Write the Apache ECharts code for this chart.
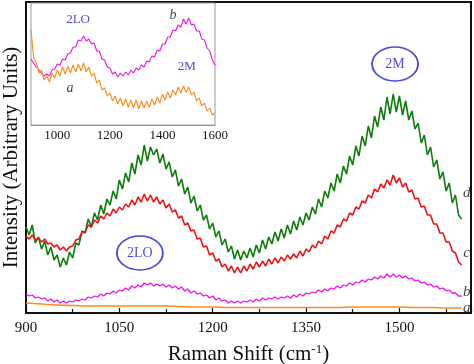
<!DOCTYPE html>
<html>
<head>
<meta charset="utf-8">
<script src="https://cdn.jsdelivr.net/npm/echarts@6/dist/echarts.min.js"></script>
<style>html,body{margin:0;padding:0;background:#fff}#c{width:474px;height:364px}</style>
</head>
<body>
<div id="c"></div>
<script>
// Main spectra: Raman shift 900..1600 cm-1, step 5
const shiftMain = Array.from({length: 141}, (_, i) => 900 + 5 * i);
const curveD = [86,78,88,70,76,64,72,58,66,53,58,46,55,48,61,55,70,68,82,80,
94,86,100,93,108,99,114,108,122,114,133,124,140,131,150,139,158,148,168,152,
166,158,164,150,159,144,151,136,143,127,134,119,126,110,117,102,108,93,98,84,
90,76,82,68,74,61,67,54,63,53,62,55,65,56,68,60,73,64,76,69,
81,72,84,75,88,79,92,83,96,88,100,93,106,99,114,106,122,115,130,122,
139,130,147,139,157,148,167,157,177,167,187,175,197,186,206,193,216,199,219,201,
217,198,212,193,202,184,190,170,178,158,166,146,153,134,141,122,130,110,118,98,94];
const curveC = [77,74,78,73,75,71,74,69,70,66,68,63,66,62,66,67,73,74,81,81,
88,86,93,90,97,94,100,97,104,100,106,103,109,106,113,108,116,111,119,112,
118,111,116,109,113,105,109,101,103,95,97,88,90,82,83,74,75,66,67,58,
60,52,54,46,49,42,47,40,46,40,47,42,49,44,51,46,52,47,54,49,
55,50,56,52,58,54,59,55,62,57,64,61,68,65,72,69,77,74,82,80,
88,86,94,92,100,98,106,104,112,110,118,115,124,121,129,125,133,128,138,130,
135,126,130,121,123,114,115,106,107,98,98,89,89,80,80,71,71,62,60,51,48];
const curveB = [19,17,18,15,16,14,15,12,14,11,13,10,12,10,12,11,13,12,14,13,
16,15,17,16,19,17,20,19,22,20,23,22,25,23,27,25,28,26,30,28,
30,27,29,27,29,26,28,25,27,24,26,22,24,20,22,19,20,17,18,15,
17,13,15,12,13,10,12,10,12,10,12,11,13,11,14,12,15,13,15,14,
16,14,16,15,17,15,18,16,19,17,20,19,21,20,23,21,24,22,25,24,
27,25,28,27,30,28,31,30,33,31,34,33,36,34,37,35,39,36,39,36,
38,35,37,34,35,32,33,30,31,28,29,26,27,24,25,22,23,20,20,17,17];
const shiftA = [900,925,950,975,1000,1025,1050,1075,1100,1125,1150,1175,1200,1225,1250,1275,1300,1325,1350,1375,1400,1425,1450,1475,1500,1525,1550,1575,1600];
const curveA = [10,9,8,7.5,7,7,7,7,7,7,6.5,6,6,5.5,5.5,5.5,5.5,5.5,5.5,5.5,5.5,6,6,6,6,5.5,5.5,5,5];

// Inset spectra: 900..1600 step 10
const shiftInset = Array.from({length: 71}, (_, i) => 900 + 10 * i);
const insetB = [66,62,58,55,52,49,51,49,55,56,61,60,66,65,71,72,78,78,85,84,
89,84,86,81,82,74,74,66,65,58,57,51,53,48,52,49,53,50,55,52,
57,55,60,58,64,63,69,68,75,74,81,81,88,88,95,94,100,98,106,101,
107,100,101,94,94,86,85,77,74,65,60];
const insetA = [95,68,62,52,55,45,49,43,52,47,55,49,58,51,59,52,60,53,61,54,
62,53,58,49,52,42,45,35,37,29,32,24,29,21,27,19,26,18,25,17,
25,16,24,17,24,18,26,20,28,22,31,25,33,27,35,30,38,32,39,33,
38,30,33,24,27,19,22,14,17,10,12];

const mainTicks = [900, 1050, 1200, 1350, 1500];
const insetTicks = [1000, 1200, 1400, 1600];

// annotations (data coordinates)
const curveLabels = [['d', 1608, 120], ['c', 1608, 60], ['b', 1608, 21], ['a', 1608, 5]];
const bandLabels = [['2LO', 1083, 60], ['2M', 1493, 249]];
const insetCurveLabels = [['b', 1440, 110], ['a', 1048, 37]];
const insetBandLabels = [['2LO', 1079, 105], ['2M', 1493, 58]];

const zip = (xs, ys) => ys.map((y, i) => [xs[i], y]);
const serif = 'Liberation Serif, Times New Roman, serif';
const blue = '#1a1ad6';
const plain = v => String(v);

const chart = echarts.init(document.getElementById('c'), null, {renderer: 'canvas'});
chart.setOption({
  animation: false,
  backgroundColor: '#fff',
  grid: [
    {left: 26, right: 3, top: 2, bottom: 51, show: true, borderColor: '#111', borderWidth: 2, z: 0,
      containLabel: false, outerBoundsMode: 'none'},
    {left: 31, top: 3, width: 184, height: 122, show: true, borderColor: '#999', borderWidth: 1, backgroundColor: '#fff', z: 1,
      containLabel: false, outerBoundsMode: 'none'}
  ],
  xAxis: [
    {
      type: 'value', gridIndex: 0, min: 900, max: 1615, interval: 150,
      axisLine: {lineStyle: {color: '#111', width: 2}},
      axisTick: {inside: true, length: 5, lineStyle: {color: '#111', width: 1.2}},
      minorTick: {show: true, splitNumber: 2, length: 4, lineStyle: {color: '#111', width: 1.2}},
      splitLine: {show: false},
      axisLabel: {showMaxLabel: false, margin: 8, color: '#111', fontFamily: serif, fontSize: 15, formatter: plain},
      name: 'Raman Shift (cm{sup|-1})', nameLocation: 'middle', nameGap: 30,
      nameTextStyle: {color: '#111', fontFamily: serif, fontSize: 21,
        rich: {sup: {fontFamily: serif, fontSize: 13, color: '#111', verticalAlign: 'top', padding: [0, 0, 10, 0]}}}
    },
    {
      type: 'value', gridIndex: 1, min: 900, max: 1600,
      axisLine: {lineStyle: {color: '#999', width: 1}},
      axisTick: {show: false},
      splitLine: {show: false},
      axisLabel: {customValues: insetTicks, margin: 4, color: '#111', fontFamily: serif, fontSize: 13, formatter: plain}
    }
  ],
  yAxis: [
    {
      type: 'value', gridIndex: 0, min: 0, max: 311,
      axisLine: {show: true, lineStyle: {color: '#111', width: 2}},
      axisTick: {show: false}, axisLabel: {show: false}, splitLine: {show: false},
      name: 'Intensity (Arbitrary Units)', nameLocation: 'middle', nameGap: 4,
      nameTextStyle: {color: '#111', fontFamily: serif, fontSize: 21}
    },
    {
      type: 'value', gridIndex: 1, min: 0, max: 122,
      axisLine: {show: true, lineStyle: {color: '#999', width: 1}},
      axisTick: {show: false}, axisLabel: {show: false}, splitLine: {show: false}
    }
  ],
  series: [
    {type: 'line', xAxisIndex: 0, yAxisIndex: 0, data: zip(shiftA, curveA), showSymbol: false, smooth: true,
      lineStyle: {color: '#ff8a1c', width: 1.6}, z: 3},
    {type: 'line', xAxisIndex: 0, yAxisIndex: 0, data: zip(shiftMain, curveB), showSymbol: false,
      lineStyle: {color: '#ee10ee', width: 1.3}, z: 3},
    {type: 'line', xAxisIndex: 0, yAxisIndex: 0, data: zip(shiftMain, curveD), showSymbol: false,
      lineStyle: {color: '#0b7d0b', width: 1.6}, z: 3},
    {type: 'line', xAxisIndex: 0, yAxisIndex: 0, data: zip(shiftMain, curveC), showSymbol: false,
      lineStyle: {color: '#f21010', width: 1.6}, z: 4},
    {type: 'line', xAxisIndex: 1, yAxisIndex: 1, data: zip(shiftInset, insetB), showSymbol: false,
      lineStyle: {color: '#ee10ee', width: 1.1}, z: 5},
    {type: 'line', xAxisIndex: 1, yAxisIndex: 1, data: zip(shiftInset, insetA), showSymbol: false,
      lineStyle: {color: '#ff8a1c', width: 1.1}, z: 5},
    {type: 'scatter', xAxisIndex: 0, yAxisIndex: 0, z: 6,
      data: curveLabels.map(d => ({value: [d[1], d[2]], name: d[0]})),
      symbolSize: 1, itemStyle: {color: 'rgba(0,0,0,0)'},
      label: {show: true, position: 'inside', formatter: p => p.name, color: '#111',
        fontFamily: serif, fontStyle: 'italic', fontSize: 15}},
    {type: 'scatter', xAxisIndex: 0, yAxisIndex: 0, z: 6,
      data: bandLabels.map(d => ({value: [d[1], d[2]], name: d[0]})),
      symbol: 'circle', symbolSize: [46, 34],
      itemStyle: {color: 'rgba(255,255,255,0)', borderColor: blue, borderWidth: 1.6},
      label: {show: true, position: 'inside', formatter: p => p.name, color: blue,
        fontFamily: serif, fontSize: 14}},
    {type: 'scatter', xAxisIndex: 1, yAxisIndex: 1, z: 6,
      data: insetCurveLabels.map(d => ({value: [d[1], d[2]], name: d[0]})),
      symbolSize: 1, itemStyle: {color: 'rgba(0,0,0,0)'},
      label: {show: true, position: 'inside', formatter: p => p.name, color: '#111',
        fontFamily: serif, fontStyle: 'italic', fontSize: 14}},
    {type: 'scatter', xAxisIndex: 1, yAxisIndex: 1, z: 6,
      data: insetBandLabels.map(d => ({value: [d[1], d[2]], name: d[0]})),
      symbolSize: 1, itemStyle: {color: 'rgba(0,0,0,0)'},
      label: {show: true, position: 'inside', formatter: p => p.name, color: blue,
        fontFamily: serif, fontSize: 13}}
  ]
});
</script>
</body>
</html>
